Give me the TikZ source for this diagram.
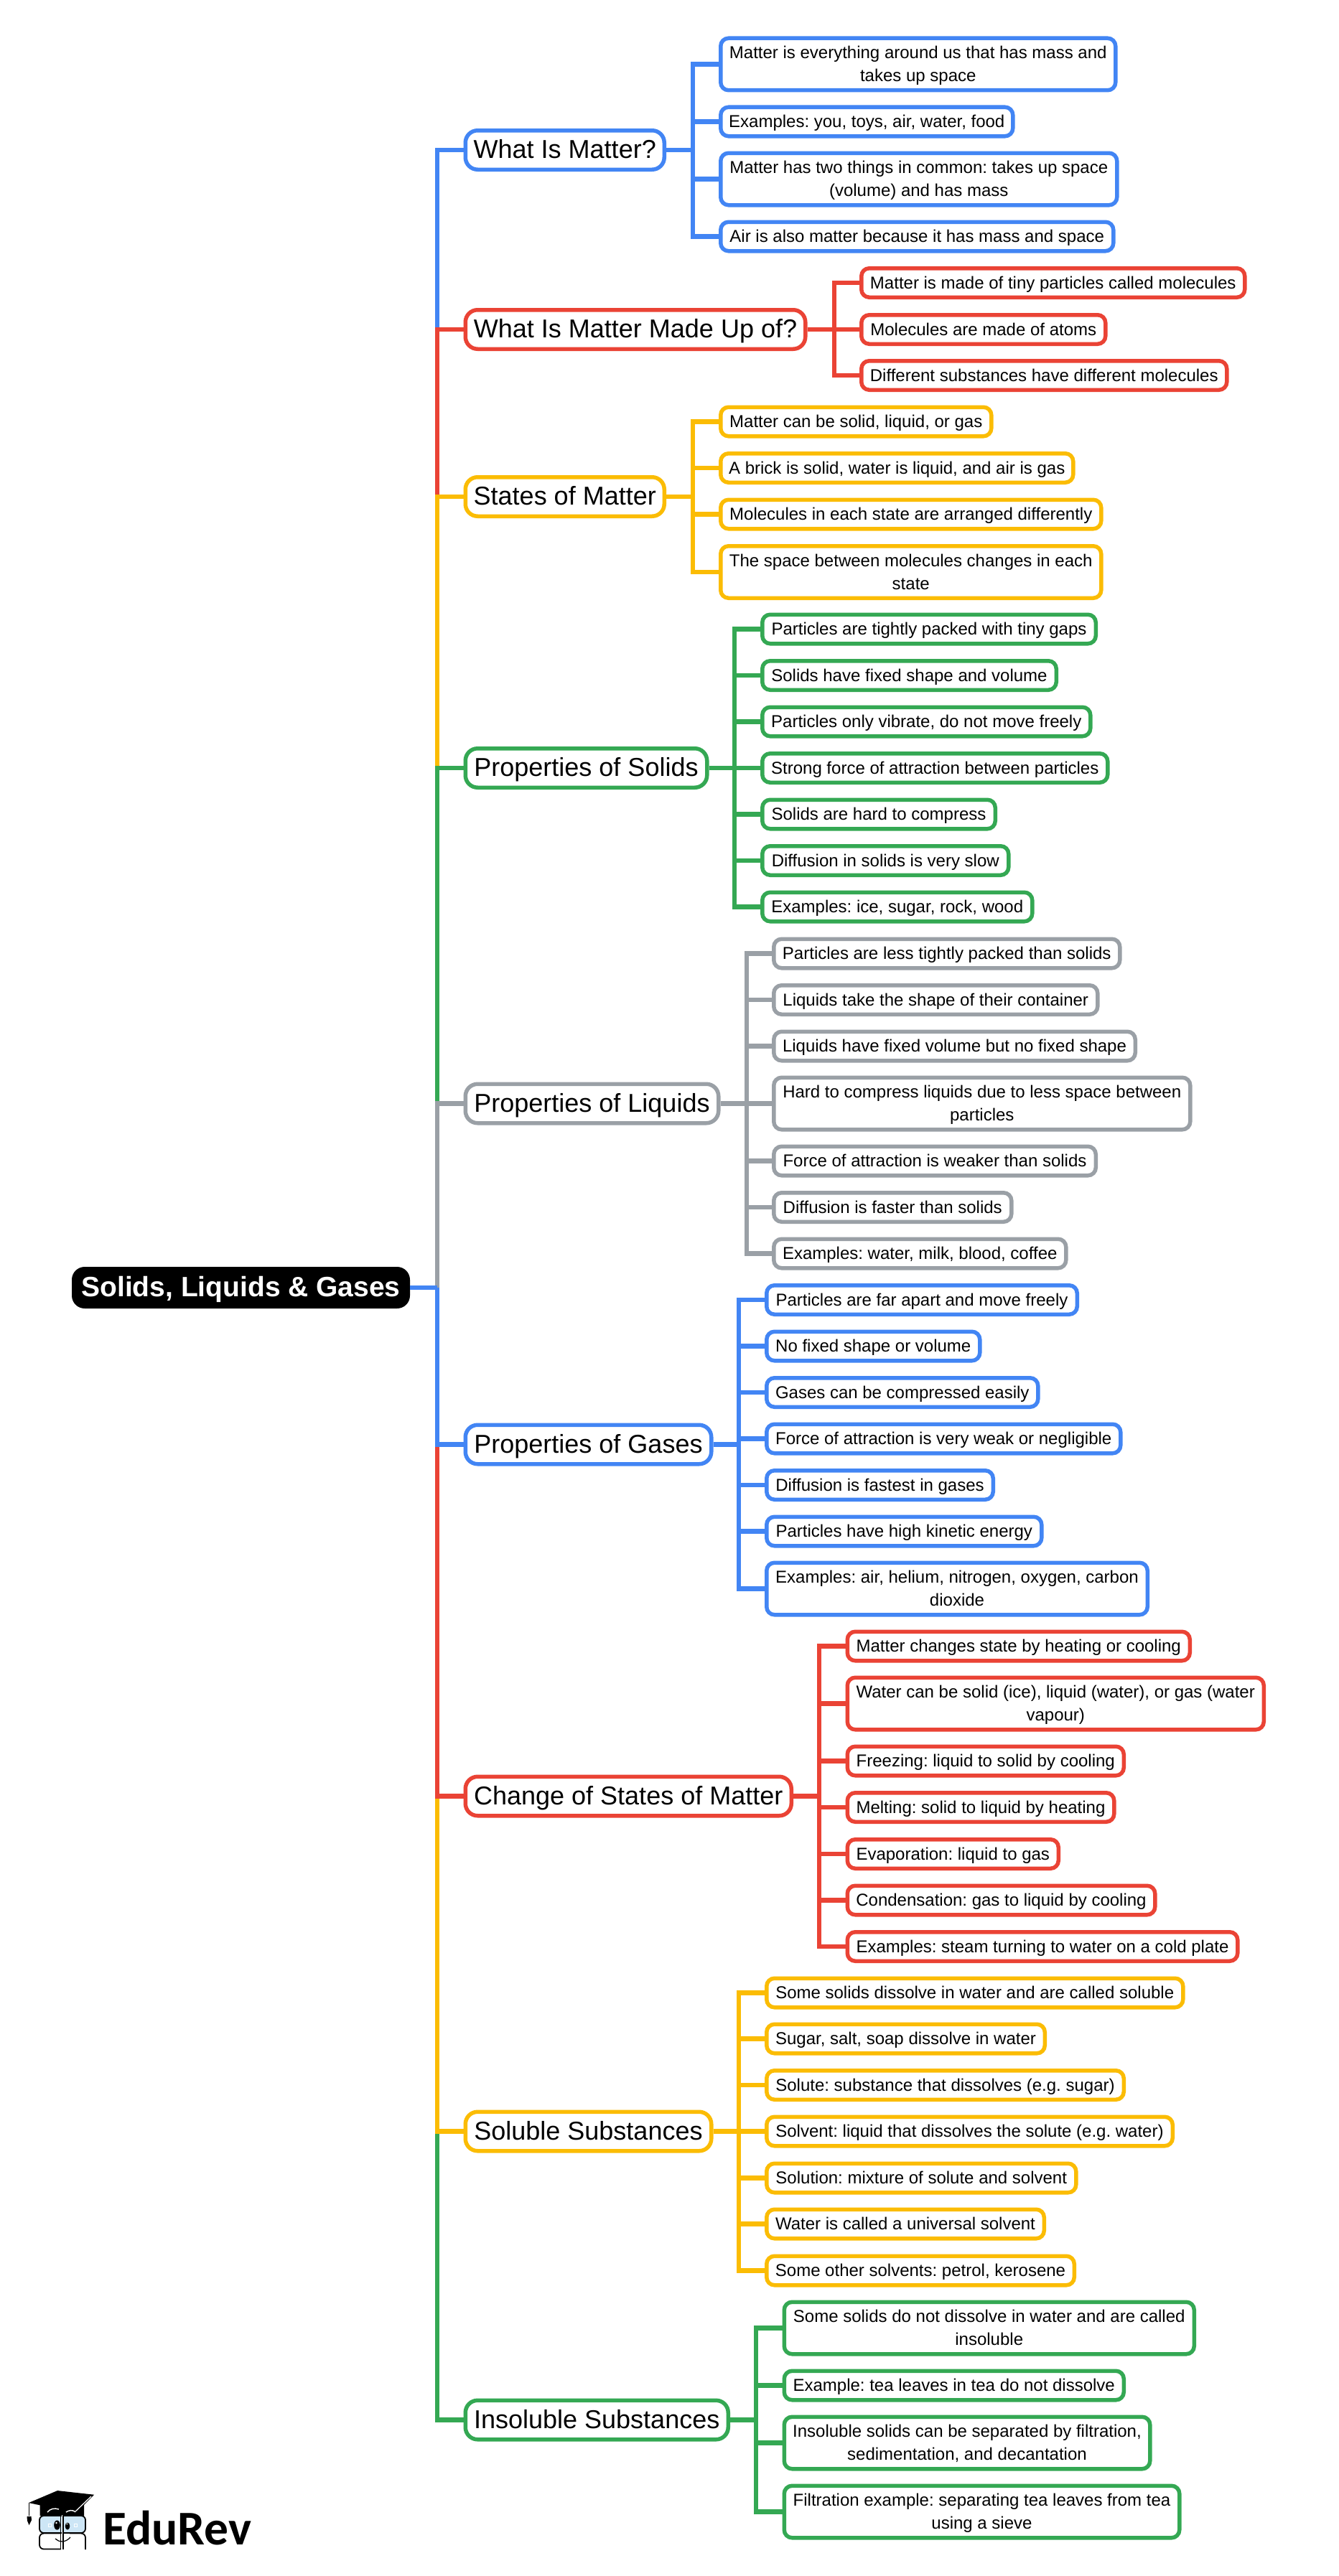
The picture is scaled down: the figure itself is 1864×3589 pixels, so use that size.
\documentclass[tikz,border=0pt]{standalone}
\usepackage{fontspec}
\setmainfont{Liberation Sans}
\newfontfamily\logofont{Carlito}
\definecolor{mblue}{HTML}{4285F4}
\definecolor{mred}{HTML}{EA4335}
\definecolor{myellow}{HTML}{FBBC04}
\definecolor{mgreen}{HTML}{34A853}
\definecolor{mgray}{HTML}{9AA0A6}
\definecolor{logoblue}{HTML}{CDE6F6}
\tikzset{
  kid/.style={draw=\cur,fill=white,line width=5.5pt,rounded corners=11pt,anchor=west,inner sep=0pt,
    minimum height=40.5pt,text=black,font=\frenchspacing\fontsize{24}{32}\selectfont,text height=22pt,text depth=6pt,align=center},
  kidtwo/.style={kid,minimum height=72.5pt,text height=54pt},
  topic/.style={draw=\cur,fill=white,line width=5.5pt,rounded corners=17pt,anchor=west,inner sep=0pt,
    minimum height=54.5pt,text=black,font=\frenchspacing\fontsize{36}{42}\selectfont,text height=31pt,text depth=8pt},
  rootbox/.style={fill=black,text=white,rounded corners=18pt,anchor=west,inner sep=0pt,outer sep=0pt,
    font=\frenchspacing\fontsize{39}{44}\selectfont\bfseries,text height=33pt,text depth=8pt},
  link/.style={draw=\cur,line width=6.5pt},
}
% name, left, right, centre y, text
\newcommand\leafone[5]{%
  \pgfmathsetmacro\boxw{#3-#2-3}%
  \pgfmathsetmacro\boxl{#2-1}%
  \node[kid,minimum width=\boxw] (#1) at (\boxl,#4) {#5};%
  \draw[link] (\curbus) |- (#1.west);}
\newcommand\leaftwo[5]{%
  \pgfmathsetmacro\boxw{#3-#2-3}%
  \pgfmathsetmacro\boxl{#2-1}%
  \node[kidtwo,minimum width=\boxw] (#1) at (\boxl,#4) {#5};%
  \draw[link] (\curbus) |- (#1.west);}
% name, right, centre y, bus x, text
\newcommand\branch[5]{%
  \pgfmathsetmacro\boxw{#2-650}%
  \node[topic,minimum width=\boxw] (#1) at (645.5,#3) {#5};%
  \coordinate (#1bus) at (#4,#3);%
  \draw[link] (#1.east) -- (#1bus);%
  \def\curbus{#1bus}}
\begin{document}
\begin{tikzpicture}[x=1pt,y=-1pt]
\useasboundingbox (0,0) rectangle (1864,3589);
\fill[white] (0,0) rectangle (1864,3589);

\node[rootbox,minimum width=471pt,minimum height=58pt] (root) at (100,1794) {Solids, Liquids \& Gases};
\coordinate (tr) at (609,1794);

\def\cur{mblue}
\branch{a}{927}{209}{965}{What Is Matter?}
\leaftwo{a1}{1002}{1555}{89.5}{Matter is everything around us that has mass and\\takes up space}
\leafone{a2}{1002}{1412}{169.5}{Examples: you, toys, air, water, food}
\leaftwo{a3}{1002}{1557}{249.5}{Matter has two things in common: takes up space\\(volume) and has mass}
\leafone{a4}{1002}{1552}{329.5}{Air is also matter because it has mass and space}

\def\cur{mred}
\branch{b}{1123.5}{459}{1162}{What Is Matter Made Up of?}
\leafone{b1}{1198}{1735}{394}{Matter is made of tiny particles called molecules}
\leafone{b2}{1198}{1541}{459}{Molecules are made of atoms}
\leafone{b3}{1198}{1710}{523}{Different substances have different molecules}

\def\cur{myellow}
\branch{c}{927}{692}{965}{States of Matter}
\leafone{c1}{1002}{1382}{587.5}{Matter can be solid, liquid, or gas}
\leafone{c2}{1002}{1496}{652}{A brick is solid, water is liquid, and air is gas}
\leafone{c3}{1002}{1535}{716.5}{Molecules in each state are arranged differently}
\leaftwo{c4}{1002}{1535}{797}{The space between molecules changes in each\\state}

\def\cur{mgreen}
\branch{d}{986.5}{1070}{1023}{Properties of Solids}
\leafone{d1}{1060}{1527.5}{876.5}{Particles are tightly packed with tiny gaps}
\leafone{d2}{1060}{1472.5}{941}{Solids have fixed shape and volume}
\leafone{d3}{1060}{1520}{1005.5}{Particles only vibrate, do not move freely}
\leafone{d4}{1060}{1544}{1070}{Strong force of attraction between particles}
\leafone{d5}{1060}{1387.5}{1134.5}{Solids are hard to compress}
\leafone{d6}{1060}{1406}{1199}{Diffusion in solids is very slow}
\leafone{d7}{1060}{1439}{1263.5}{Examples: ice, sugar, rock, wood}

\def\cur{mgray}
\branch{e}{1002.5}{1537.5}{1040}{Properties of Liquids}
\leafone{e1}{1076}{1561}{1328.5}{Particles are less tightly packed than solids}
\leafone{e2}{1076}{1530}{1393}{Liquids take the shape of their container}
\leafone{e3}{1076}{1582.5}{1457.5}{Liquids have fixed volume but no fixed shape}
\leaftwo{e4}{1076}{1659}{1537.5}{Hard to compress liquids due to less space between\\particles}
\leafone{e5}{1076}{1527.5}{1617.5}{Force of attraction is weaker than solids}
\leafone{e6}{1076}{1410}{1682}{Diffusion is faster than solids}
\leafone{e7}{1076}{1486}{1746.5}{Examples: water, milk, blood, coffee}

\def\cur{mblue}
\branch{f}{992.5}{2012.5}{1029}{Properties of Gases}
\leafone{f1}{1066}{1501.5}{1811}{Particles are far apart and move freely}
\leafone{f2}{1066}{1366}{1875.5}{No fixed shape or volume}
\leafone{f3}{1066}{1447}{1940}{Gases can be compressed easily}
\leafone{f4}{1066}{1562}{2004.5}{Force of attraction is very weak or negligible}
\leafone{f5}{1066}{1384.5}{2069}{Diffusion is fastest in gases}
\leafone{f6}{1066}{1452}{2133.5}{Particles have high kinetic energy}
\leaftwo{f7}{1066}{1599.5}{2213.5}{Examples: air, helium, nitrogen, oxygen, carbon\\dioxide}

\def\cur{mred}
\branch{g}{1104}{2502.5}{1141}{Change of States of Matter}
\leafone{g1}{1178.5}{1658.5}{2293.5}{Matter changes state by heating or cooling}
\leaftwo{g2}{1178.5}{1761.5}{2373.5}{Water can be solid (ice), liquid (water), or gas (water\\vapour)}
\leafone{g3}{1178.5}{1566.5}{2453.5}{Freezing: liquid to solid by cooling}
\leafone{g4}{1178.5}{1553}{2518}{Melting: solid to liquid by heating}
\leafone{g5}{1178.5}{1475.5}{2583}{Evaporation: liquid to gas}
\leafone{g6}{1178.5}{1610}{2647.5}{Condensation: gas to liquid by cooling}
\leafone{g7}{1178.5}{1725}{2712}{Examples: steam turning to water on a cold plate}

\def\cur{myellow}
\branch{h}{992.5}{2969.5}{1029}{Soluble Substances}
\leafone{h1}{1066}{1649}{2776.5}{Some solids dissolve in water and are called soluble}
\leafone{h2}{1066}{1456.5}{2840.5}{Sugar, salt, soap dissolve in water}
\leafone{h3}{1066}{1566.5}{2905}{Solute: substance that dissolves (e.g. sugar)}
\leafone{h4}{1066}{1634.5}{2969.5}{Solvent: liquid that dissolves the solute (e.g. water)}
\leafone{h5}{1066}{1500}{3034.5}{Solution: mixture of solute and solvent}
\leafone{h6}{1066}{1455.5}{3098.5}{Water is called a universal solvent}
\leafone{h7}{1066}{1497.5}{3163.5}{Some other solvents: petrol, kerosene}

\def\cur{mgreen}
\branch{i}{1016}{3371.5}{1053}{Insoluble Substances}
\leaftwo{i1}{1090.5}{1664.5}{3243.5}{Some solids do not dissolve in water and are called\\insoluble}
\leafone{i2}{1090.5}{1566.5}{3323.5}{Example: tea leaves in tea do not dissolve}
\leaftwo{i3}{1090.5}{1603}{3403.5}{Insoluble solids can be separated by filtration,\\sedimentation, and decantation}
\leaftwo{i4}{1090.5}{1644}{3499.5}{Filtration example: separating tea leaves from tea\\using a sieve}

% trunk: root to each topic
\def\cur{mblue}\draw[link] (tr) |- (a.west);
\def\cur{mred}\draw[link] (tr) |- (b.west);
\def\cur{myellow}\draw[link] (tr) |- (c.west);
\def\cur{mgreen}\draw[link] (tr) |- (d.west);
\def\cur{mgray}\draw[link] (tr) |- (e.west);
\def\cur{mgreen}\draw[link] (tr) |- (i.west);
\def\cur{myellow}\draw[link] (tr) |- (h.west);
\def\cur{mred}\draw[link] (tr) |- (g.west);
\def\cur{mblue}\draw[link] (tr) |- (f.west);
\draw[link] (root.east) -- (tr);

% logo
\fill[black] (55.5,3489) -- (117,3488) -- (117,3505) -- (55.5,3505) -- cycle;
\fill[black] (40,3487) -- (80,3470) -- (131,3475.7) -- (106,3501) -- cycle;
\draw[white,line width=1.2pt] (104,3500) -- (127,3478);
\draw[white,line width=1.4pt] (66,3500) .. controls (70,3495) and (76,3494) .. (82,3496);
\draw[white,line width=1.4pt] (92,3500) .. controls (96,3497) and (101,3497) .. (104,3499);
\draw[black,line width=1pt] (40,3487) -- (40,3505);
\fill[black] (37.5,3506) -- (43.5,3506) -- (44,3511) -- (40.5,3518) -- (38,3512) -- cycle;
\draw[black,line width=1.8pt,fill=logoblue,rounded corners=6pt] (55,3505) rectangle (119,3529);
\draw[black,line width=1.8pt,rounded corners=6pt] (97,3529.5) -- (119,3529.5) -- (119,3552);
\draw[black,line width=1.8pt,rounded corners=6pt] (85,3551.5) -- (55,3551.5) -- (55,3529.5) -- (85,3529.5);
\draw[white,line width=1.6pt] (86.5,3504) -- (86.5,3552);
\draw[black,line width=1.4pt] (84.5,3504) -- (84.5,3552);
\draw[black,line width=1.4pt] (88,3504) -- (88,3552);
\fill[black] (79.5,3518) ellipse (4.3 and 6.6);
\fill[black] (94,3519.5) ellipse (3.3 and 5);
\fill[white] (78.5,3515) circle (1.3);
\fill[white] (93.3,3516.5) circle (1);
\draw[white,line width=1pt] (67,3516) rectangle (71,3520);
\draw[white,line width=1pt] (103,3516) rectangle (107,3520);
\draw[black,line width=1.2pt] (77,3537) .. controls (82,3542) and (91,3543) .. (98,3535);
\node[anchor=base west,inner sep=0pt,font=\logofont\fontsize{67.5}{70}\selectfont\bfseries] (brand) at (143,3545) {EduRev};
\end{tikzpicture}
\end{document}
